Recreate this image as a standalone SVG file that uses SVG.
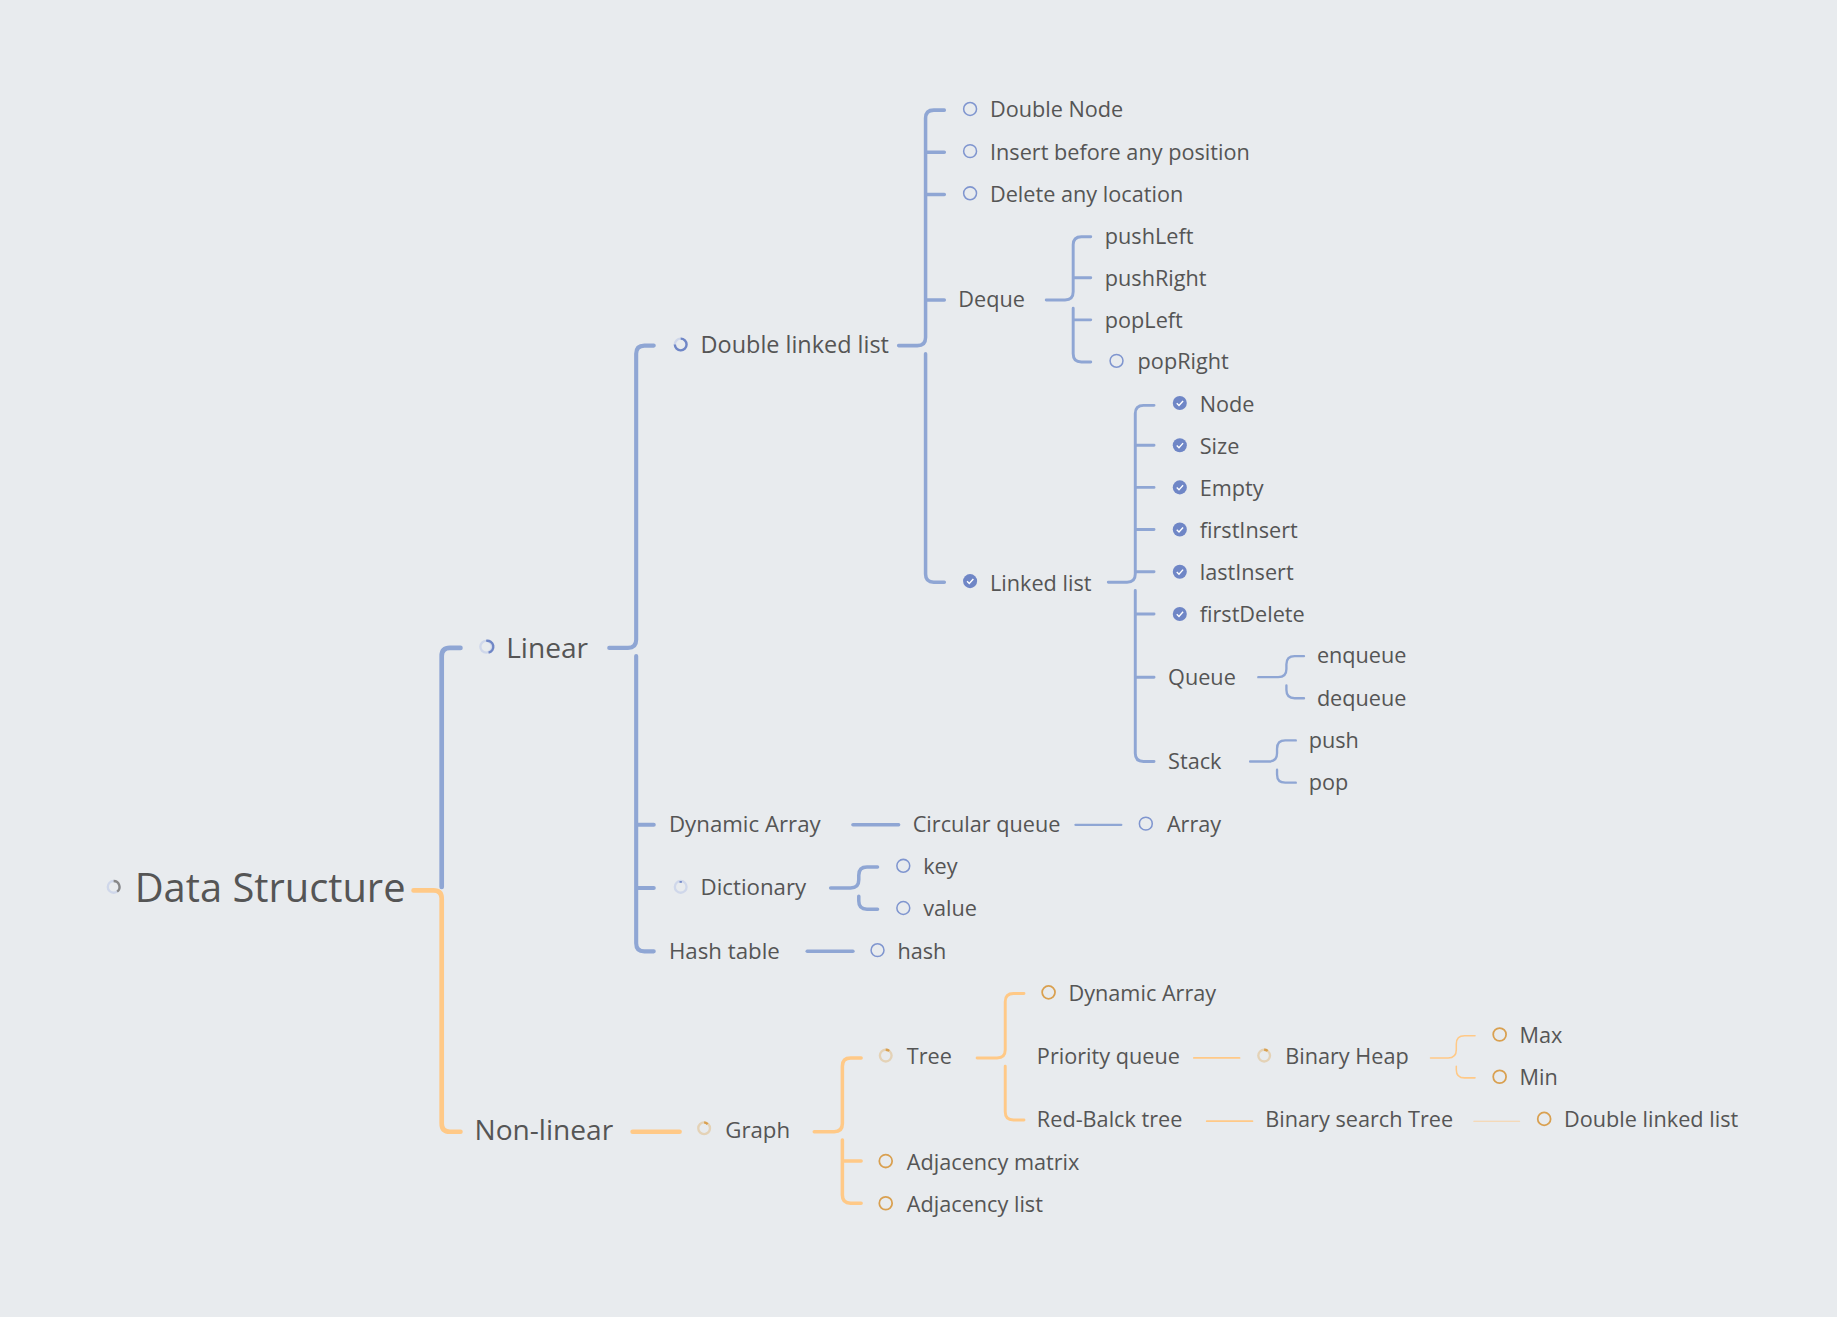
<svg xmlns="http://www.w3.org/2000/svg" width="1837" height="1317" viewBox="0 0 1837 1317">
<style>
text{font-family:"Open Sans","Noto Sans",sans-serif;fill:#555;font-size:18.5px;dominant-baseline:central}
.b{fill:none;stroke:#8fa6d4;stroke-linecap:round}
.o{fill:none;stroke:#ffc987;stroke-linecap:round}
.ib{fill:none;stroke:#7f95cf;stroke-width:1.3}
.io{fill:none;stroke:#d9a050;stroke-width:1.5}
.pb{fill:none;stroke:#cfd7ea;stroke-width:2}
.pbf{fill:none;stroke:#6f86c6;stroke-width:2}
.po{fill:none;stroke:#e4d2b6;stroke-width:2}
.pof{fill:none;stroke:#d9a050;stroke-width:2}
</style>
<defs>
<g id="chk"><circle r="6" fill="#6f86c6"/><path d="M-2.6,0.2 L-0.7,2.1 L2.8,-1.8" fill="none" stroke="#fff" stroke-width="1.2"/></g>
</defs>
<rect width="1837" height="1317" fill="#e8ebee"/>
<g transform="scale(1.1716)">
<g id="connectors">
<path class="b" stroke-width="4" d="M377,757 V560 Q377,553 384,553 H393"/>
<path class="o" stroke-width="4" d="M353,760 H370 Q377,760 377,767 V959 Q377,966 384,966 H393"/>
<path class="b" stroke-width="3.5" d="M520,553 H536 Q543,553 543,546 V302 Q543,295 550,295 H558 M543,560 V805 Q543,812 550,812 H558 M543,704 H558 M543,758 H558"/>
<path class="b" stroke-width="3" d="M767,295 H783 Q790,295 790,288 V101 Q790,94 797,94 H806 M790,130 H806 M790,166 H806 M790,256 H806 M790,302 V490 Q790,497 797,497 H806"/>
<path class="b" stroke-width="2.5" d="M893,256 H909 Q916,256 916,249 V209 Q916,202 923,202 H931 M916,237 H931 M916,273 H931 M916,263 V302 Q916,309 923,309 H931"/>
<path class="b" stroke-width="2.5" d="M946,497 H962 Q969,497 969,490 V353 Q969,346 976,346 H985 M969,380 H985 M969,416 H985 M969,452 H985 M969,488 H985 M969,524 H985 M969,578 H985 M969,504 V643 Q969,650 976,650 H985"/>
<path class="b" stroke-width="2" d="M1074,578 H1091 Q1098,578 1098,571 V567 Q1098,560 1105,560 H1113 M1098,585 V589 Q1098,596 1105,596 H1113"/>
<path class="b" stroke-width="2" d="M1067,650 H1083 Q1090,650 1090,643 V639 Q1090,632 1097,632 H1106 M1090,657 V661 Q1090,668 1097,668 H1106"/>
<path class="b" stroke-width="3" d="M728,704 H767"/>
<path class="b" stroke-width="2" d="M918,704 H957"/>
<path class="b" stroke-width="3" d="M709,758 H726 Q733,758 733,751 V747 Q733,740 740,740 H749 M733,765 V769 Q733,776 740,776 H749"/>
<path class="b" stroke-width="3" d="M689,812 H728"/>
<path class="o" stroke-width="4" d="M540,966 H580"/>
<path class="o" stroke-width="3" d="M695,966 H712 Q719,966 719,959 V910 Q719,903 726,903 H735 M719,973 V1020 Q719,1027 726,1027 H735 M719,991 H735"/>
<path class="o" stroke-width="2.5" d="M834,903 H851 Q858,903 858,896 V855 Q858,848 865,848 H874 M858,910 V949 Q858,956 865,956 H874"/>
<path class="o" stroke-width="1.5" d="M1019,903 H1058 M1030,957 H1069"/>
<path class="o" stroke-width="1.3" d="M1221,903 H1236 Q1243,903 1243,896 V891 Q1243,884 1250,884 H1259 M1243,910 V913 Q1243,920 1250,920 H1259"/>
<path class="o" stroke-width="1" opacity="0.7" d="M1258,957 H1297"/>
</g>
<g id="root"><circle class="pb" cx="97" cy="757" r="5" stroke="#c5c8cc"/><path d="M97,752 A5,5 0 0 1 100,761" fill="none" stroke="#888" stroke-width="2"/><text x="115" y="757" style="font-size:34px">Data Structure</text></g>
<g id="linear"><circle class="pb" cx="415" cy="552" r="5"/><path class="pbf" d="M415,547 A5,5 0 0 1 417,557"/><text x="432" y="552" style="font-size:24px">Linear</text></g>
<g id="dll"><circle class="pb" cx="581" cy="294" r="5"/><path class="pbf" d="M581,289 A5,5 0 1 1 576,294"/><text x="598" y="294" style="font-size:20px">Double linked list</text></g>
<g id="doublenode"><circle class="ib" cx="828" cy="93" r="5.5"/><text x="845" y="93">Double Node</text></g>
<g id="insert"><circle class="ib" cx="828" cy="129" r="5.5"/><text x="845" y="129">Insert before any position</text></g>
<g id="delete"><circle class="ib" cx="828" cy="165" r="5.5"/><text x="845" y="165">Delete any location</text></g>
<g id="deque"><text x="818" y="255">Deque</text></g>
<g id="pushleft"><text x="943" y="201">pushLeft</text></g>
<g id="pushright"><text x="943" y="237">pushRight</text></g>
<g id="popleft"><text x="943" y="273">popLeft</text></g>
<g id="popright"><circle class="ib" cx="953" cy="308" r="5.5"/><text x="971" y="308">popRight</text></g>
<g id="linkedlist"><use href="#chk" x="828" y="496"/><text x="845" y="497">Linked list</text></g>
<g id="node"><use href="#chk" x="1007" y="344"/><text x="1024" y="344">Node</text></g>
<g id="size"><use href="#chk" x="1007" y="380"/><text x="1024" y="380">Size</text></g>
<g id="empty"><use href="#chk" x="1007" y="416"/><text x="1024" y="416">Empty</text></g>
<g id="firstinsert"><use href="#chk" x="1007" y="452"/><text x="1024" y="452">firstInsert</text></g>
<g id="lastinsert"><use href="#chk" x="1007" y="488"/><text x="1024" y="488">lastInsert</text></g>
<g id="firstdelete"><use href="#chk" x="1007" y="524"/><text x="1024" y="524">firstDelete</text></g>
<g id="queue"><text x="997" y="577">Queue</text></g>
<g id="enqueue"><text x="1124" y="559">enqueue</text></g>
<g id="dequeue"><text x="1124" y="595">dequeue</text></g>
<g id="stack"><text x="997" y="649">Stack</text></g>
<g id="push"><text x="1117" y="631">push</text></g>
<g id="pop"><text x="1117" y="667">pop</text></g>
<g id="dynarray"><text x="571" y="703" style="font-size:19px">Dynamic Array</text></g>
<g id="circq"><text x="779" y="703">Circular queue</text></g>
<g id="array"><circle class="ib" cx="978" cy="703" r="5.5"/><text x="996" y="703">Array</text></g>
<g id="dictionary"><circle class="pb" cx="581" cy="757" r="5"/><path class="pbf" d="M581,752 V753.5"/><text x="598" y="757" style="font-size:19px">Dictionary</text></g>
<g id="key"><circle class="ib" cx="771" cy="739" r="5.5"/><text x="788" y="739">key</text></g>
<g id="value"><circle class="ib" cx="771" cy="775" r="5.5"/><text x="788" y="775">value</text></g>
<g id="hashtable"><text x="571" y="811" style="font-size:19px">Hash table</text></g>
<g id="hash"><circle class="ib" cx="749" cy="811" r="5.5"/><text x="766" y="811">hash</text></g>
<g id="nonlinear"><text x="405" y="964" style="font-size:24px">Non-linear</text></g>
<g id="graph"><circle class="po" cx="601" cy="963" r="5"/><path class="pof" d="M601,958 A5,5 0 0 1 604,959.5"/><text x="619" y="964" style="font-size:19px">Graph</text></g>
<g id="tree"><circle class="po" cx="756" cy="901" r="5"/><path class="pof" d="M756,896 A5,5 0 0 1 759,897"/><text x="774" y="901">Tree</text></g>
<g id="adjm"><circle class="io" cx="756" cy="991" r="5.5"/><text x="774" y="991">Adjacency matrix</text></g>
<g id="adjl"><circle class="io" cx="756" cy="1027" r="5.5"/><text x="774" y="1027">Adjacency list</text></g>
<g id="tdynarray"><circle class="io" cx="895" cy="847" r="5.5"/><text x="912" y="847">Dynamic Array</text></g>
<g id="pq"><text x="885" y="901">Priority queue</text></g>
<g id="binheap"><circle class="po" cx="1079" cy="901" r="5"/><path class="pof" d="M1079,896 A5,5 0 0 1 1082,897"/><text x="1097" y="901">Binary Heap</text></g>
<g id="max"><circle class="io" cx="1280" cy="883" r="5.5"/><text x="1297" y="883">Max</text></g>
<g id="min"><circle class="io" cx="1280" cy="919" r="5.5"/><text x="1297" y="919">Min</text></g>
<g id="rbtree"><text x="885" y="955">Red-Balck tree</text></g>
<g id="bst"><text x="1080" y="955">Binary search Tree</text></g>
<g id="tdll"><circle class="io" cx="1318" cy="955" r="5.5"/><text x="1335" y="955">Double linked list</text></g>
</g>
</svg>
